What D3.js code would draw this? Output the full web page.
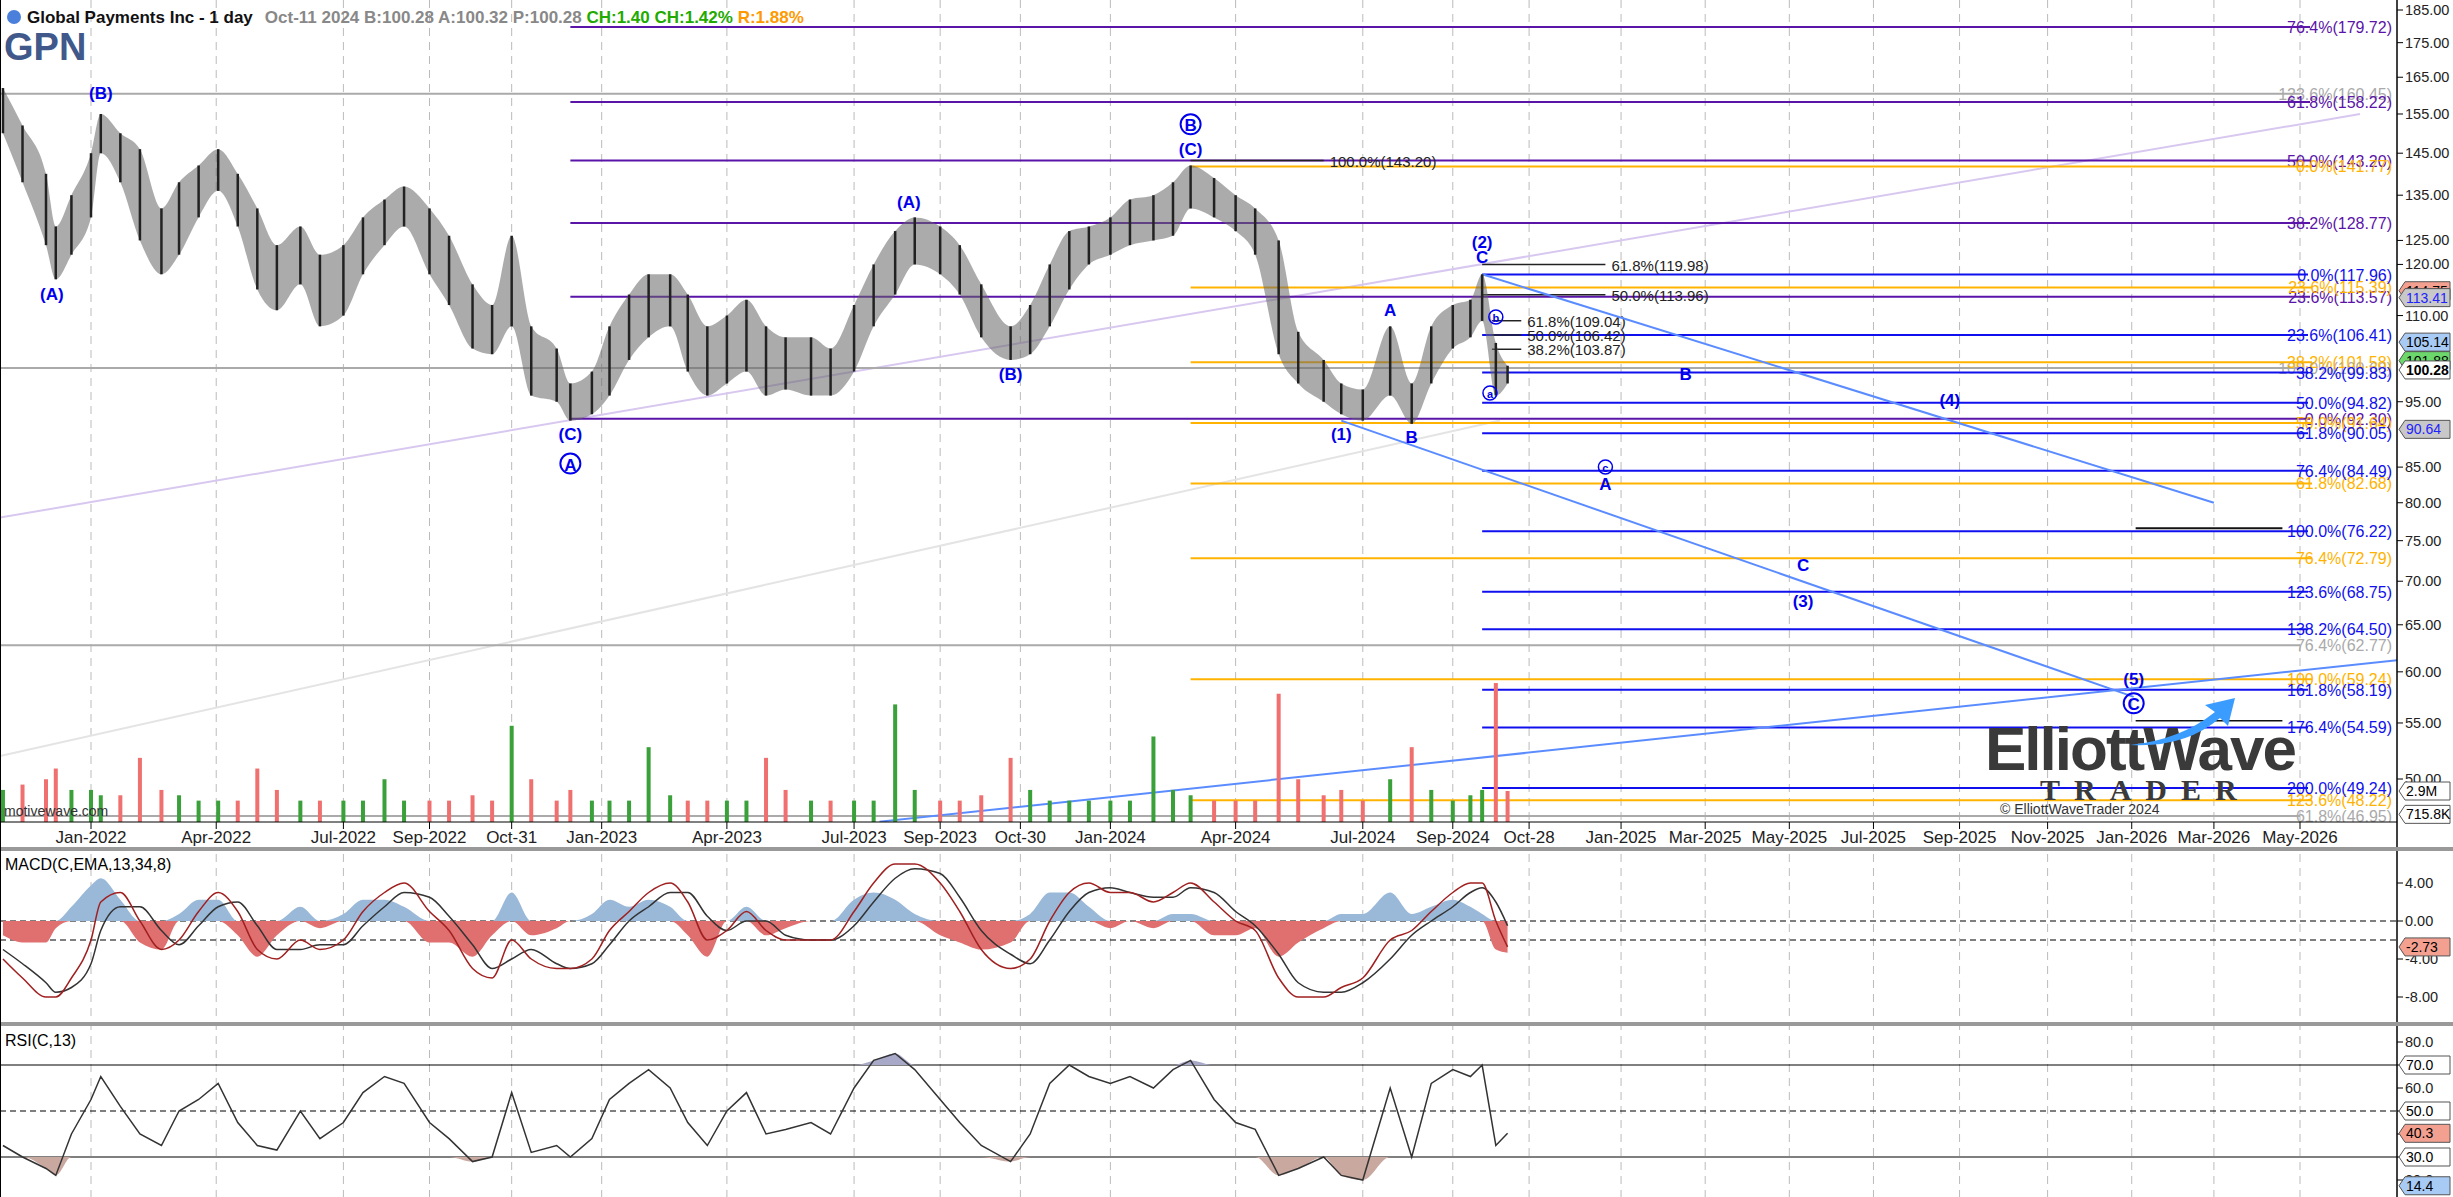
<!DOCTYPE html>
<html><head><meta charset="utf-8">
<script src="https://cdn.jsdelivr.net/npm/d3@7"></script>
<style>body{margin:0;background:#fff}svg{display:block;font-family:"Liberation Sans",Arial,sans-serif}</style>
</head><body><svg id="c" width="2453" height="1197"></svg>
<script>
const dates=["2021-11-01","2021-11-15","2021-12-01","2021-12-08","2021-12-20","2022-01-03","2022-01-10","2022-01-24","2022-02-07","2022-02-22","2022-03-07","2022-03-21","2022-04-04","2022-04-18","2022-05-02","2022-05-16","2022-06-01","2022-06-15","2022-07-01","2022-07-15","2022-08-01","2022-08-15","2022-09-01","2022-09-15","2022-10-03","2022-10-17","2022-10-31","2022-11-14","2022-12-01","2022-12-12","2022-12-27","2023-01-09","2023-01-23","2023-02-06","2023-02-21","2023-03-06","2023-03-20","2023-04-03","2023-04-17","2023-05-01","2023-05-15","2023-06-01","2023-06-15","2023-07-03","2023-07-17","2023-08-01","2023-08-15","2023-09-01","2023-09-15","2023-10-02","2023-10-23","2023-11-06","2023-11-20","2023-12-04","2023-12-18","2024-01-02","2024-01-16","2024-02-01","2024-02-15","2024-02-28","2024-03-15","2024-04-01","2024-04-15","2024-05-01","2024-05-15","2024-06-03","2024-06-14","2024-07-01","2024-07-19","2024-08-05","2024-08-19","2024-09-03","2024-09-16","2024-09-24","2024-10-03","2024-10-11"];
const highs=[162,152,140,128,135,145,155,150,146,132,138,142,146,140,132,124,128,122,124,130,134,137,132,126,116,112,126,108,104,98,100,108,114,118,118,114,108,110,113,108,106,106,104,112,120,127,130,128,124,116,108,112,120,127,128,130,134,135,138,142,139,135,132,125,107,102,98,97,108,98,108,112,113,118,105,101];
const lows=[150,138,124,117,122,130,145,138,125,118,122,130,136,128,115,111,116,108,110,118,124,128,118,112,104,103,108,96,95,92,93,96,102,106,108,100,96,98,100,96,97,96,96,100,108,114,120,118,114,106,102,103,108,115,120,122,124,125,126,132,130,127,122,103,98,95,93,92,96,91.5,98,104,106,109,96,98];
const volumes=[3,3.5,4,5,3,3,2.5,2.5,6,3,2.5,2,2,2,5,3,2,2,2,2,4,2,2,2,2.5,2,9,4,2,3,2,2,2,7,2.5,2,2,2,2,6,3,2,2,2,2,11,3,2,2,2.5,6,3,2,2,2,2,2,8,3,2.5,2,2,2,12,4,2.5,3,2,4,7,3,2,2.5,3,13,2.9];
const macd=[-4,-6,-8,-8,-6,-2,2,3,0,-3,-2,1,3,1,-3,-4,-2,-3,-2,1,3,4,1,-1,-5,-6,-2,-4,-5,-5,-4,-1,1,3,4,2,-2,-1,1,-1,-2,-2,-2,1,4,6,6,4,1,-3,-5,-4,0,3,4,3,3,2,3,4,2,0,-1,-6,-8,-8,-7,-6,-2,-1,1,3,4,4,0,-2.73];
const signal=[-3,-4.5,-6.5,-7.5,-7,-4.5,-1,1.5,1.5,-1,-2.5,-0.5,1.5,2,-0.5,-3,-3,-2.5,-2.5,-0.5,1.5,3,2.5,0.5,-2.5,-5,-4,-3,-4.5,-5,-4.5,-2.5,0,1.5,3,3,0.5,-1,0,0,-1.5,-2,-2,-0.5,2,4.5,5.5,5,2.5,-1,-3.5,-4.5,-2,1,3,3.5,3,2.5,2.5,3.5,3,1,-0.5,-3.5,-6.5,-7.5,-7.5,-6.5,-4,-1.5,0,1.5,3,3.5,2,-0.5];
const rsi=[35,30,25,22,40,55,65,52,40,35,50,55,62,45,35,33,50,38,45,58,65,62,45,38,28,30,58,32,35,30,38,55,62,68,60,45,35,50,58,40,42,45,40,60,72,75,68,55,45,35,28,40,62,70,65,62,65,60,68,72,55,45,42,22,25,30,22,20,60,30,62,68,65,70,35,40.3];
const xTickDates=["2022-01-03","2022-04-01","2022-07-01","2022-09-01","2022-10-31","2023-01-03","2023-04-03","2023-07-03","2023-09-01","2023-10-30","2024-01-02","2024-04-01","2024-07-01","2024-09-03","2024-10-28","2025-01-01","2025-03-03","2025-05-01","2025-07-01","2025-09-01","2025-11-03","2026-01-01","2026-03-02","2026-05-01"];
const xTickLabels=["Jan-2022","Apr-2022","Jul-2022","Sep-2022","Oct-31","Jan-2023","Apr-2023","Jul-2023","Sep-2023","Oct-30","Jan-2024","Apr-2024","Jul-2024","Sep-2024","Oct-28","Jan-2025","Mar-2025","May-2025","Jul-2025","Sep-2025","Nov-2025","Jan-2026","Mar-2026","May-2026"];
const priceTicks=[185,175,165,155,145,135,125,120,110,95,85,80,75,70,65,60,55,50];
const macdTicks=[4,0,-4,-8];
const rsiTicks=[80,70,60,50,40,30,20];
const fibPurple=[["76.4%",179.72],["61.8%",158.22],["50.0%",143.20],["38.2%",128.77],["23.6%",113.57],["0.0%",92.30]];
const fibOrange=[["0.0%",141.77],["23.6%",115.39],["38.2%",101.58],["50.0%",91.64],["61.8%",82.68],["76.4%",72.79],["100.0%",59.24],["123.6%",48.22]];
const fibBlue=[["0.0%",117.96],["23.6%",106.41],["38.2%",99.83],["50.0%",94.82],["61.8%",90.05],["76.4%",84.49],["100.0%",76.22],["123.6%",68.75],["138.2%",64.50],["161.8%",58.19],["176.4%",54.59],["200.0%",49.24]];
const fibGrey=[["123.6%",160.45],["100.0%",100.6],["76.4%",62.77],["61.8%",46.95]];
const fibBlackShort=[["2024-02-28","2024-06-03","100.0%",143.20],["2024-09-24","2024-12-20","61.8%",119.98],["2024-09-24","2024-12-20","50.0%",113.96],["2024-10-01","2024-10-22","61.8%",109.04],["2024-10-01","2024-10-22","50.0%",106.42],["2024-10-01","2024-10-22","38.2%",103.87]];
const waveLabels=[["2021-12-06",113,"(A)",0],["2022-01-10",159,"(B)",0],["2022-12-12",89,"(C)",0],["2022-12-12",84.5,"A",1],["2023-08-10",132,"(A)",0],["2023-10-23",98.5,"(B)",0],["2024-02-28",144.5,"(C)",0],["2024-02-28",150.5,"B",1],["2024-06-14",89,"(1)",0],["2024-07-19",110,"A",0],["2024-08-05",88.5,"B",0],["2024-09-24",123.5,"(2)",0],["2024-09-24",120.3,"C",0],["2024-10-03",108.8,"b",2],["2024-09-30",95.6,"a",2],["2025-02-17",98.6,"B",0],["2025-08-25",94.3,"(4)",0],["2024-12-20",84.3,"c",2],["2024-12-20",81.8,"A",0],["2025-05-10",71.2,"C",0],["2025-05-10",67.0,"(3)",0],["2026-01-02",58.7,"(5)",0],["2026-01-02",56.2,"C",1]];
const tags=[[114.75,"114.75","#f4a090","#000"],[113.41,"113.41","#c8c8c8","#22f"],[105.14,"105.14","#a8cbf5","#000"],[101.88,"101.88","#6cd86c","#000"],[100.28,"100.28","#fff","#000"],[90.64,"90.64","#c8c8c8","#22f"]];

const svg=d3.select("#c");
const base=new Date("2022-01-03T00:00:00Z");
function wd(s){const d=new Date(s+"T00:00:00Z");const a=d<base?d:base,b=d<base?base:d;
 const n=d3.utcDays(a,b).filter(t=>t.getUTCDay()%6!==0).length;return d<base?-n:n;}
const x=d3.scaleLinear().domain([0,wd("2026-05-01")]).range([91,2300]);
const X=s=>x(wd(s));
const AX=2397, MB=822;
const y=d3.scaleLog().domain([50,185]).range([779,10]);
const yv=d3.scaleLinear().domain([0,2.9]).range([MB,791]);
const ym=d3.scaleLinear().domain([0,4]).range([921,883]);
const yr=d3.scaleLinear().domain([80,20]).range([1042,1180]);

const defs=svg.append("defs");
[["cm",0,MB],["cmacd",849,1024],["crsi",1024,1197]].forEach(([id,a,b])=>defs.append("clipPath").attr("id",id).append("rect").attr("x",0).attr("y",a).attr("width",AX).attr("height",b-a));
const gM=svg.append("g").attr("clip-path","url(#cm)");
[gM,svg.append("g").attr("clip-path","url(#cmacd)"),svg.append("g").attr("clip-path","url(#crsi)")].forEach(g=>
 g.selectAll("line.vg").data(xTickDates).join("line").attr("x1",X).attr("x2",X).attr("y1",0).attr("y2",1197).attr("stroke","#bbb").attr("stroke-dasharray","8,6"));

gM.append("line").attr("x1",0).attr("y1",y(78)).attr("x2",2360).attr("y2",y(155)).attr("stroke","#d8c8f0").attr("stroke-width",2);
gM.append("line").attr("x1",0).attr("y1",y(52)).attr("x2",1500).attr("y2",y(92)).attr("stroke","#e4e4e4").attr("stroke-width",2);

function fib(list,start,color,end){
 list.forEach(([l,v])=>{
  gM.append("line").attr("x1",start).attr("x2",end).attr("y1",y(v)).attr("y2",y(v)).attr("stroke",color).attr("stroke-width",2);
  gM.append("text").attr("x",2392).attr("y",y(v)+6).attr("text-anchor","end").attr("font-size",16).attr("fill",color).text(`${l}(${v.toFixed(2)})`);
 });}
fib(fibGrey,0,"#aaaaaa",2300);
fib(fibPurple,X("2022-12-12"),"#5a14a8",2310);
fib(fibOrange,X("2024-02-28"),"#ffb300",2312);
fib(fibBlue,X("2024-09-24"),"#1010ee",2308);
fibBlackShort.forEach(([a,b,l,v])=>{
 gM.append("line").attr("x1",X(a)).attr("x2",X(b)).attr("y1",y(v)).attr("y2",y(v)).attr("stroke","#222").attr("stroke-width",1.5);
 gM.append("text").attr("x",X(b)+6).attr("y",y(v)+6).attr("font-size",15).attr("fill","#222").text(`${l}(${v.toFixed(2)})`);
});
gM.append("line").attr("x1",X("2026-01-05")).attr("x2",X("2026-04-20")).attr("y1",y(76.6)).attr("y2",y(76.6)).attr("stroke","#111").attr("stroke-width",2);
gM.append("line").attr("x1",X("2026-01-05")).attr("x2",X("2026-04-20")).attr("y1",y(55.2)).attr("y2",y(55.2)).attr("stroke","#111").attr("stroke-width",1.5);

gM.append("line").attr("x1",X("2024-06-14")).attr("y1",y(92)).attr("x2",X("2026-01-02")).attr("y2",y(57.5)).attr("stroke","#5b8cff").attr("stroke-width",2);
gM.append("line").attr("x1",X("2024-09-24")).attr("y1",y(118)).attr("x2",X("2026-03-02")).attr("y2",y(80)).attr("stroke","#5b8cff").attr("stroke-width",2);
gM.append("line").attr("x1",X("2023-07-20")).attr("y1",y(46.5)).attr("x2",AX).attr("y2",y(61.2)).attr("stroke","#5b8cff").attr("stroke-width",2);

gM.selectAll("rect.v").data(dates).join("rect").attr("x",d=>X(d)-2).attr("width",4)
 .attr("y",(d,i)=>yv(volumes[i])).attr("height",(d,i)=>MB-yv(volumes[i]))
 .attr("fill",(d,i)=>i>0&&highs[i]<highs[i-1]?"#f07070":"#3aa03a");

gM.append("path").datum(dates).attr("d",d3.area().x(d=>X(d)).y0((d,i)=>y(lows[i])).y1((d,i)=>y(highs[i])).curve(d3.curveMonotoneX)).attr("fill","#666").attr("opacity",0.55);
gM.selectAll("line.p").data(dates).join("line").attr("x1",X).attr("x2",X).attr("y1",(d,i)=>y(highs[i])).attr("y2",(d,i)=>y(lows[i])).attr("stroke","#222").attr("stroke-width",2.5);

waveLabels.forEach(([d,v,t,c])=>{
 const cx=X(d),cy=y(v);
 if(c===1){gM.append("circle").attr("cx",cx).attr("cy",cy-7).attr("r",10).attr("fill","none").attr("stroke","#0000ee").attr("stroke-width",2);}
 if(c===2){gM.append("circle").attr("cx",cx).attr("cy",cy-5).attr("r",7).attr("fill","none").attr("stroke","#0000ee").attr("stroke-width",1.5);}
 gM.append("text").attr("x",cx).attr("y",cy).attr("text-anchor","middle").attr("font-size",c===2?11:17).attr("font-weight","bold").attr("fill","#0000ee").text(t);
});

const lg=svg.append("g");
lg.append("text").attr("x",1985).attr("y",770).attr("font-size",62).attr("font-weight","bold").attr("fill","#3a3a3a").attr("letter-spacing",-2).text("ElliottWave");
lg.append("text").attr("x",2040).attr("y",800).attr("font-size",30).attr("font-family","Liberation Serif,serif").attr("font-weight","bold").attr("fill","#3a3a3a").attr("letter-spacing",14).text("TRADER");
lg.append("path").attr("d","M2130,745 Q2180,740 2215,712 L2205,705 L2235,698 L2228,726 L2220,718 Q2185,748 2130,745 Z").attr("fill","#3b9cff");
svg.append("text").attr("x",2000).attr("y",814).attr("font-size",14).attr("fill","#333").text("© ElliottWaveTrader 2024");
svg.append("text").attr("x",4).attr("y",816).attr("font-size",14).attr("fill","#333").text("motivewave.com");

svg.append("line").attr("x1",AX).attr("x2",AX).attr("y1",0).attr("y2",1197).attr("stroke","#000").attr("stroke-width",1.5);
priceTicks.forEach(v=>{svg.append("line").attr("x1",AX).attr("x2",AX+6).attr("y1",y(v)).attr("y2",y(v)).attr("stroke","#000");
 svg.append("text").attr("x",AX+8).attr("y",y(v)+5).attr("font-size",14.5).attr("fill","#222").text(v.toFixed(2));});
function tag(yy,t,bg,fg,bold){const g=svg.append("g");
 g.append("path").attr("d",`M${AX+2},${yy} L${AX+8},${yy-9} L${AX+53},${yy-9} L${AX+53},${yy+9} L${AX+8},${yy+9} Z`).attr("fill",bg).attr("stroke","#555");
 g.append("text").attr("x",AX+9).attr("y",yy+5).attr("font-size",14).attr("font-weight",bold?"bold":"normal").attr("fill",fg).text(t);}
tags.forEach(([v,t,bg,fg])=>tag(y(v),t,bg,fg,t==="100.28"));
tag(yv(2.9),"2.9M","#fff","#000");tag(yv(0.7158),"715.8K","#fff","#000");

svg.append("line").attr("x1",0).attr("x2",AX).attr("y1",MB).attr("y2",MB).attr("stroke","#000");
svg.append("rect").attr("x",0).attr("y",847).attr("width",2453).attr("height",4).attr("fill","#999");
svg.append("rect").attr("x",0).attr("y",1022).attr("width",2453).attr("height",4).attr("fill","#999");
svg.append("line").attr("x1",0.5).attr("x2",0.5).attr("y1",0).attr("y2",1197).attr("stroke","#000");
xTickDates.forEach((d,i)=>{svg.append("line").attr("x1",X(d)).attr("x2",X(d)).attr("y1",MB).attr("y2",MB+7).attr("stroke","#000");
 svg.append("text").attr("x",X(d)).attr("y",MB+21).attr("text-anchor","middle").attr("font-size",17).attr("fill","#222").text(xTickLabels[i]);});

const gmc=svg.append("g").attr("clip-path","url(#cmacd)");
[0,-2].forEach(v=>gmc.append("line").attr("x1",0).attr("x2",AX).attr("y1",ym(v)).attr("y2",ym(v)).attr("stroke","#000").attr("stroke-dasharray","6,4"));
const hist=macd.map((m,i)=>m-signal[i]);
gmc.append("path").datum(dates).attr("d",d3.area().x(d=>X(d)).y0(ym(0)).y1((d,i)=>ym(Math.max(0,hist[i]*1.5))).curve(d3.curveMonotoneX)).attr("fill","#9ab8d8");
gmc.append("path").datum(dates).attr("d",d3.area().x(d=>X(d)).y0(ym(0)).y1((d,i)=>ym(Math.min(0,hist[i]*1.5))).curve(d3.curveMonotoneX)).attr("fill","#e07070");
gmc.append("path").datum(dates).attr("d",d3.line().x(d=>X(d)).y((d,i)=>ym(signal[i])).curve(d3.curveMonotoneX)).attr("fill","none").attr("stroke","#333").attr("stroke-width",1.5);
gmc.append("path").datum(dates).attr("d",d3.line().x(d=>X(d)).y((d,i)=>ym(macd[i])).curve(d3.curveMonotoneX)).attr("fill","none").attr("stroke","#a02020").attr("stroke-width",1.5);
svg.append("text").attr("x",5).attr("y",870).attr("font-size",16).attr("fill","#000").text("MACD(C,EMA,13,34,8)");
macdTicks.forEach(v=>{svg.append("line").attr("x1",AX).attr("x2",AX+6).attr("y1",ym(v)).attr("y2",ym(v)).attr("stroke","#000");
 svg.append("text").attr("x",AX+8).attr("y",ym(v)+5).attr("font-size",14.5).attr("fill","#222").text(v.toFixed(2));});
tag(ym(-2.73),"-2.73","#f4a090","#000");

const grs=svg.append("g").attr("clip-path","url(#crsi)");
grs.append("line").attr("x1",0).attr("x2",AX).attr("y1",yr(70)).attr("y2",yr(70)).attr("stroke","#000");
grs.append("line").attr("x1",0).attr("x2",AX).attr("y1",yr(30)).attr("y2",yr(30)).attr("stroke","#000");
grs.append("line").attr("x1",0).attr("x2",AX).attr("y1",yr(50)).attr("y2",yr(50)).attr("stroke","#000").attr("stroke-dasharray","6,4");
grs.append("path").datum(dates).attr("d",d3.area().x(d=>X(d)).y0(yr(30)).y1((d,i)=>yr(Math.min(30,rsi[i]))).curve(d3.curveMonotoneX)).attr("fill","#c9a8a0");
grs.append("path").datum(dates).attr("d",d3.area().x(d=>X(d)).y0(yr(70)).y1((d,i)=>yr(Math.max(70,rsi[i]))).curve(d3.curveMonotoneX)).attr("fill","#a8a8c8");
grs.append("path").datum(dates).attr("d",d3.line().x(d=>X(d)).y((d,i)=>yr(rsi[i]))).attr("fill","none").attr("stroke","#333").attr("stroke-width",1.5);
svg.append("text").attr("x",5).attr("y",1046).attr("font-size",16).attr("fill","#000").text("RSI(C,13)");
rsiTicks.forEach(v=>{svg.append("line").attr("x1",AX).attr("x2",AX+6).attr("y1",yr(v)).attr("y2",yr(v)).attr("stroke","#000");
 svg.append("text").attr("x",AX+8).attr("y",yr(v)+5).attr("font-size",14.5).attr("fill","#222").text(v.toFixed(1));});
[[70,"70.0","#fff"],[50,"50.0","#fff"],[40.3,"40.3","#f4a090"],[30,"30.0","#fff"],[17.5,"14.4","#a8cbf5"]].forEach(([v,t,bg])=>tag(yr(v),t,bg,"#000"));

svg.append("circle").attr("cx",14).attr("cy",17).attr("r",7).attr("fill","#4a7fdc");
const hd=svg.append("text").attr("x",27).attr("y",23).attr("font-size",17).attr("font-weight","bold");
hd.append("tspan").attr("fill","#111").text("Global Payments Inc - 1 day");
hd.append("tspan").attr("dx",12).attr("fill","#888").text("Oct-11 2024  B:100.28  A:100.32  P:100.28 ");
hd.append("tspan").attr("fill","#22aa00").text(" CH:1.40  CH:1.42% ");
hd.append("tspan").attr("fill","#ff9900").text(" R:1.88%");
svg.append("text").attr("x",4).attr("y",60).attr("font-size",38).attr("font-weight","bold").attr("fill","#40598a").text("GPN");
</script></body></html>
